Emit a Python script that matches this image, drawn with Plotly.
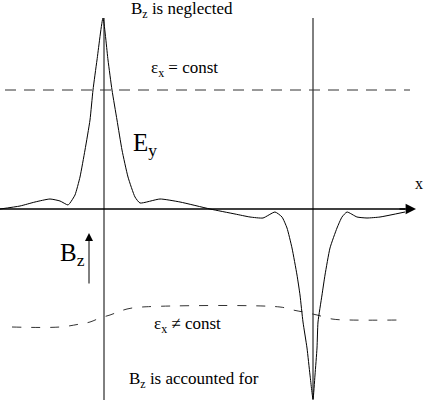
import plotly.graph_objects as go

# E_y profile (x position, height above the x axis)
ey_x = [0, 20, 35, 50, 60, 68, 70, 75, 80, 85, 90, 93, 97, 103,
        108, 112, 117, 122, 128, 135, 140, 160, 180, 210, 235, 250, 263, 275, 282,
        287, 292, 297, 300, 303, 307, 310, 313, 315, 317, 318, 322, 325, 330,
        337, 342, 347, 357, 367, 380, 405]
ey_y = [0, 3, 7, 10, 8, 4, 6, 14, 32, 59, 89, 119, 149, 191,
        149, 119, 89, 59, 32, 12, 6, 10, 7, 0, -5, -8, -9, -3, -8,
        -19, -39, -66, -86, -113, -139, -166, -190, -166, -139, -113, -86, -66, -39,
        -19, -8, -3, -8, -9, -8, -3]

# eps_x profiles
eps_const_x = [5, 410]
eps_const_y = [119, 119]
eps_var_x = [12, 60, 80, 90, 100, 110, 118, 127, 142, 280, 293, 303, 317, 332, 350, 400]
eps_var_y = [-118, -118, -115, -113, -109, -106, -103, -100, -98, -98, -101, -103, -106, -110, -111, -111]

# boundaries
wall_x = [104, 313]
wall_top, wall_bottom = 191, -191

ink = "black"
serif = "Times New Roman, Liberation Serif, DejaVu Serif, serif"

fig = go.Figure()

# x axis
fig.add_trace(go.Scatter(x=[0, 405], y=[0, 0], mode="lines",
                         line=dict(color=ink, width=1.6), hoverinfo="skip"))

for wx in wall_x:
    fig.add_trace(go.Scatter(x=[wx, wx], y=[wall_top, wall_bottom], mode="lines",
                             line=dict(color=ink, width=1), hoverinfo="skip"))

fig.add_trace(go.Scatter(x=eps_const_x, y=eps_const_y, mode="lines",
                         line=dict(color="#333", width=1, dash="11px,8px"), hoverinfo="skip"))
fig.add_trace(go.Scatter(x=eps_var_x, y=eps_var_y, mode="lines", line_shape="spline",
                         line=dict(color="#333", width=1, dash="9px,10px"), hoverinfo="skip"))

fig.add_trace(go.Scatter(x=ey_x, y=ey_y, mode="lines", line_shape="spline",
                         line=dict(color=ink, width=1, smoothing=0.5), hoverinfo="skip"))

# arrows
fig.add_annotation(x=416, y=0, ax=398, ay=0, xref="x", yref="y", axref="x", ayref="y",
                   showarrow=True, arrowhead=2, arrowsize=1.6, arrowwidth=1.3,
                   arrowcolor=ink, text="")
fig.add_annotation(x=89, y=-24, ax=89, ay=-76, xref="x", yref="y", axref="x", ayref="y",
                   showarrow=True, arrowhead=2, arrowsize=1.6, arrowwidth=1,
                   arrowcolor=ink, text="")

labels = [
    (182, 199, "B<sub>z</sub> is neglected", 17, "center"),
    (184, 140, "ε<sub>x</sub> = const", 17, "center"),
    (131, 65, "E<sub>y</sub>", 25, "left"),
    (419, 26, "x", 16, "center"),
    (58, -45, "B<sub>z</sub>", 25, "left"),
    (187, -116, "ε<sub>x</sub> ≠ const", 17, "center"),
    (194, -171, "B<sub>z</sub> is accounted for", 17, "center"),
]
for lx, ly, txt, size, anchor in labels:
    fig.add_annotation(x=lx, y=ly, text=txt, showarrow=False, xanchor=anchor,
                       yanchor="middle", font=dict(family=serif, size=size, color=ink))

fig.update_layout(
    width=425, height=400,
    margin=dict(l=0, r=0, t=0, b=0),
    paper_bgcolor="white", plot_bgcolor="white",
    showlegend=False,
    font=dict(family=serif),
    xaxis=dict(range=[0, 425], visible=False, fixedrange=True),
    yaxis=dict(range=[-191, 209], visible=False, fixedrange=True),
)

# drop the default page margin so the figure fills the window
fig.write_html("out.html", config={"displayModeBar": False},
               post_script="document.body.style.margin = '0';")
